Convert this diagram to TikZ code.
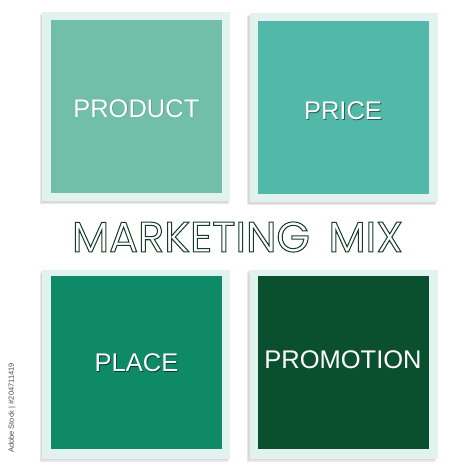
\documentclass[tikz,border=0pt]{standalone}
\usepackage{fontspec}
\setmainfont{Liberation Sans}
\newfontfamily\titlefont{Poppins}
\definecolor{cprod}{HTML}{72BFA8}
\definecolor{cprice}{HTML}{52B8A8}
\definecolor{cplace}{HTML}{0E8A68}
\definecolor{cpromo}{HTML}{0A4F2E}
\definecolor{cframe}{HTML}{E2F3EF}
\definecolor{coutline}{HTML}{1B4A33}
\newcommand{\outlinetext}[1]{\special{pdf:literal direct q 1 Tr 0.95 w 0.08 0.24 0.16 RG}#1\special{pdf:literal direct Q}}
\tikzset{
  x=1pt, y=-1pt,
  frame/.style={fill=cframe, draw=none, minimum width=188pt, minimum height=189pt, inner sep=0pt},
  shad/.style={fill=black!25, draw=none, minimum width=188pt, minimum height=189pt, inner sep=0pt, opacity=0.35},
  card/.style={draw=none, minimum width=171pt, minimum height=173pt, inner sep=0pt, text=white, font=\fontsize{25.5}{30}\selectfont},
  lbl/.style={inner sep=0pt, font=\fontsize{25.5}{30}\selectfont},
}
\newcommand{\mkcard}[6]{% name, frame center x, y, inner x, y, color
  \node[shad] (#1s2) at (#2-2.5,#3+3) {};
  \node[shad] (#1s1) at (#2-1.5,#3+1.8) {};
  \node[frame] (#1f) at (#2,#3) {};
  \node[card, fill=#6] (#1) at (#4,#5) {};
}
\begin{document}
\begin{tikzpicture}
\useasboundingbox (0,0) rectangle (474,474);
\fill[white] (0,0) rectangle (474,474);
\mkcard{prod}{136}{106.5}{136.5}{106.5}{cprod}
\mkcard{price}{343.5}{107.5}{343.5}{107}{cprice}
\mkcard{place}{136}{364}{136.5}{362.5}{cplace}
\mkcard{promo}{343.5}{364}{343.5}{362.5}{cpromo}
% labels with shadow
\node[lbl, text=cprod!60!black, opacity=0.6] (prodts) at (137,109) {PRODUCT};
\node[lbl, text=white] (prodt) at (136.3,108.3) {PRODUCT};
\node[lbl, text=cprice!50!black] (pricets) at (343.8,111.8) {PRICE};
\node[lbl, text=white] (pricet) at (343,111) {PRICE};
\node[lbl, text=cplace!40!black] (placets) at (137.2,363.8) {PLACE};
\node[lbl, text=white] (placet) at (136.5,363) {PLACE};
\node[lbl, text=white] (promot) at (343,360) {PROMOTION};
% title
\node[inner sep=0pt] (title) at (237.5,237) {\resizebox{331pt}{30pt}{\titlefont\fontsize{40}{48}\selectfont\outlinetext{MARKETING\ \,MIX}}};
% side credit
\node[rotate=90, inner sep=0pt, text=black!70, font=\fontsize{7.5}{9}\selectfont] (credit) at (12,408) {Adobe Stock | \#204711419};
\end{tikzpicture}
\end{document}
